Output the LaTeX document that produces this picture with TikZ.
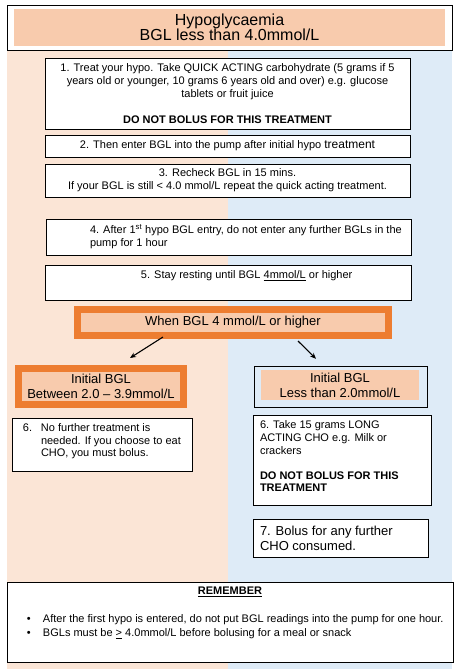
\documentclass[tikz,border=0pt]{standalone}
\usepackage{fontspec}
\setmainfont{Liberation Sans}
\usetikzlibrary{arrows.meta}
\definecolor{peach}{HTML}{F8CBAD}
\definecolor{leftbg}{HTML}{FBE5D6}
\definecolor{rightbg}{HTML}{DEEBF7}
\definecolor{hypoorange}{HTML}{ED7D31}
\tikzset{
  stepbox/.style={draw, line width=0.9pt, fill=white, inner sep=0pt, font=\fontsize{11}{13}\selectfont},
  bigbox/.style={draw=hypoorange, line width=7pt, fill=peach, inner sep=0pt, align=center, font=\fontsize{13}{15}\selectfont},
  flowarrow/.style={-{Stealth[length=6pt,width=5pt]}, line width=1.1pt}
}
\begin{document}
\begin{tikzpicture}[x=1pt,y=-1pt]
\useasboundingbox (0,0) rectangle (463,669);
\begin{scope}
\fill[leftbg] (7,50) rectangle (228,669);
\fill[rightbg] (228,50) rectangle (452,669);
\end{scope}
\begin{scope}
\node (title) [fill=peach, minimum width=431pt, minimum height=37pt, inner sep=0pt, align=center, font=\fontsize{16}{15.5}\selectfont] at (229.5,27.5) {Hypoglycaemia\\BGL less than 4.0mmol/L};
\draw[line width=0.9pt] (7,5) rectangle (452,50);
\node (step1) [stepbox, minimum width=365pt, minimum height=71pt, align=center] at (227.5,93.5) {1. Treat your hypo. Take QUICK ACTING carbohydrate (5 grams if 5\\years old or younger, 10 grams 6 years old and over) e.g. glucose\\tablets or fruit juice\\[13pt]\textbf{DO NOT BOLUS FOR THIS TREATMENT}};
\node (step2) [stepbox, minimum width=365pt, minimum height=22pt] at (227.5,146) {2. Then enter BGL into the pump after initial hypo {\fontsize{12}{13}\selectfont treatment}};
\node (step3) [stepbox, minimum width=365pt, minimum height=33pt, align=center] at (227.5,180.5) {3. Recheck BGL in 15 mins.\\If your BGL is still < 4.0 mmol/L repeat the quick acting treatment.};
\node (step4) [stepbox] at (228.5,237) {\parbox[c][36pt][c]{365pt}{\leftskip=44pt \mbox{4. After 1\textsuperscript{st} hypo BGL entry, do not enter any further BGLs in the}\\pump for 1 hour}};
\node (step5) [stepbox] at (228,282.5) {\parbox[c][35pt][t]{366pt}{\vspace*{6pt}\leftskip=96pt 5. Stay resting until BGL \underline{4mmol/L} or higher}};
\end{scope}
\begin{scope}
\node (when) [bigbox, minimum width=311pt, minimum height=26pt] at (233,322.5) {When BGL 4 mmol/L or higher};
\node (initA) [bigbox, minimum width=165pt, minimum height=36pt] at (101,386.5) {Initial BGL\\Between 2.0 \textendash{} 3.9mmol/L};
\node (initB) [fill=peach, minimum width=158pt, minimum height=30pt, inner sep=0pt, align=center, font=\fontsize{13}{15}\selectfont] at (340,385) {Initial BGL\\Less than 2.0mmol/L};
\draw[line width=0.9pt] (254,366) rectangle (427,407);
\draw[flowarrow] ([xshift=-70pt,yshift=2pt]when.south) -- ([xshift=29pt,yshift=7pt]initA.north);
\draw[flowarrow] ([xshift=65pt,yshift=-2pt]when.south) -- ([xshift=-24pt,yshift=11pt]initB.north);
\end{scope}
\begin{scope}
\node (treatA) [stepbox] at (102,444.5) {\parbox[c][53pt][t]{180pt}{\fontsize{11}{12.5}\selectfont\vspace*{6pt}\leftskip=29pt\hspace*{-18pt}\makebox[18pt][l]{6.}No further treatment is\\needed. If you choose to eat\\CHO, you must bolus.}};
\node (treatB) [stepbox] at (342,460) {\parbox[c][90pt][t]{178pt}{\fontsize{11}{12.6}\selectfont\vspace*{6pt}\leftskip=7pt 6. Take 15 grams LONG\\ACTING CHO e.g. Milk or\\crackers\\[12.6pt]\textbf{DO NOT BOLUS FOR THIS}\\\textbf{TREATMENT}}};
\node (bolus) [stepbox] at (340.5,538) {\parbox[c][38pt][c]{175pt}{\fontsize{13}{15}\selectfont\leftskip=7pt 7. Bolus for any further\\CHO consumed.}};
\node (remember) [stepbox] at (230,622) {\parbox[c][80pt][t]{446pt}{\vspace*{5pt}{\centering\textbf{\underline{REMEMBER}}\par}\vspace{14pt}\fontsize{11}{14}\selectfont\leftskip=20pt \mbox{\makebox[16pt][l]{•}After the first hypo is entered, do not put BGL readings into the pump for one hour.}\\\mbox{\makebox[16pt][l]{•}BGLs must be \underline{>} 4.0mmol/L before bolusing for a meal or snack}}};
\end{scope}
\end{tikzpicture}
\end{document}
